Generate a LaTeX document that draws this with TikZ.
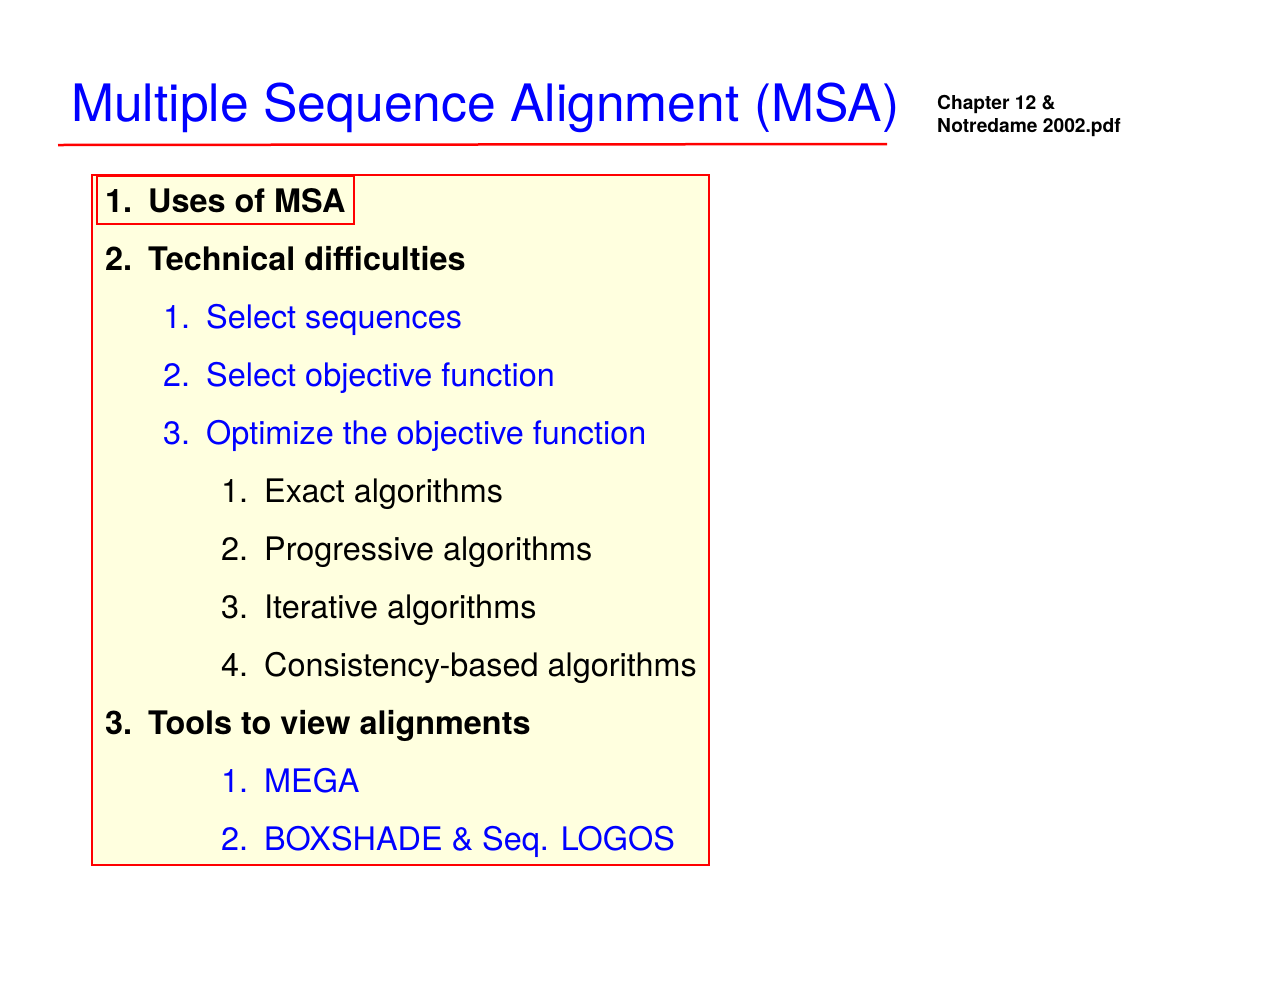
\documentclass[tikz,border=0pt]{standalone}
\usepackage{fontspec}
\setmainfont{TeX Gyre Heros}
\usepackage{xcolor}
\usetikzlibrary{positioning}
\definecolor{paleyellow}{RGB}{255,255,223}

\begin{document}
\begin{tikzpicture}[x=1pt, y=-1pt,
		 every node/.style={inner sep=0pt, anchor=base west},
		 topitem/.style={font=\fontsize{32.4}{38}\selectfont\bfseries, text=black},
		 subitem/.style={font=\fontsize{32.4}{38}\selectfont, text=blue},
		 subsubitem/.style={font=\fontsize{32.4}{38}\selectfont, text=black}]
		\useasboundingbox (0,0) rectangle (1280,989);

		% title
		\node[font=\fontsize{51.6}{60}\selectfont, text=blue] (title) at (71,121) {Multiple Sequence Alignment (MSA)};
		\draw[red, line width=2.5pt] (58,145) -- (887,144);
		\node[font=\fontsize{19.2}{23}\selectfont\bfseries, align=left] (source) at (937,132) {Chapter 12 \&\\Notredame 2002.pdf};

		% outline box
		\draw[red, line width=1.2pt, fill=paleyellow] (92,175) rectangle (709,865);

		\node[topitem] (uses) at (105,212) {\makebox[43pt][l]{1.}Uses of MSA};
		\draw[red, line width=2.5pt] (97,176) rectangle (354,224);
		\node[topitem] (tech) at (105,270) {\makebox[43pt][l]{2.}Technical difficulties};
		\node[subitem] (select) at (163,328) {\makebox[43pt][l]{1.}Select sequences};
		\node[subitem] (objective) at (163,386) {\makebox[43pt][l]{2.}Select objective function};
		\node[subitem] (optimize) at (163,444) {\makebox[43pt][l]{3.}Optimize the objective function};
		\node[subsubitem] (exact) at (221,502) {\makebox[43pt][l]{1.}Exact algorithms};
		\node[subsubitem] (progressive) at (221,560) {\makebox[43pt][l]{2.}Progressive algorithms};
		\node[subsubitem] (iterative) at (221,618) {\makebox[43pt][l]{3.}Iterative algorithms};
		\node[subsubitem] (consistency) at (221,676) {\makebox[43pt][l]{4.}Consistency-based algorithms};
		\node[topitem] (tools) at (105,734) {\makebox[43pt][l]{3.}Tools to view alignments};
		\node[subitem] (mega) at (221,792) {\makebox[43pt][l]{1.}MEGA};
		\node[subitem] (boxshade) at (221,850) {\makebox[43pt][l]{2.}BOXSHADE \& Seq. LOGOS};

\end{tikzpicture}
\end{document}
